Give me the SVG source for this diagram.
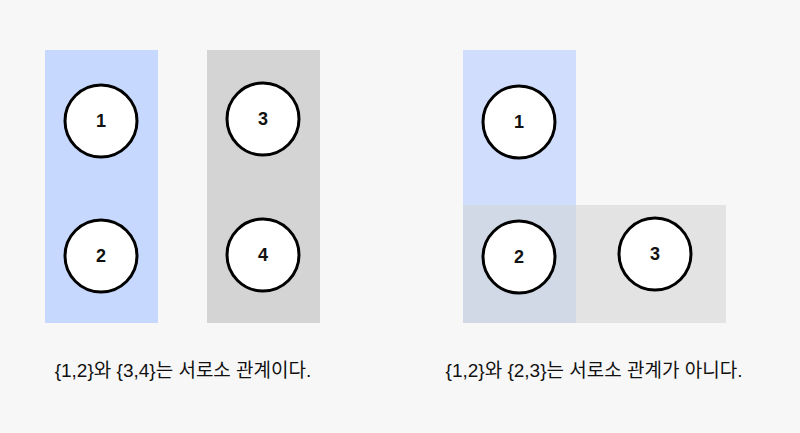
<svg xmlns="http://www.w3.org/2000/svg" width="800" height="433" viewBox="0 0 800 433">
<style>
.c{fill:#ffffff;stroke:#000000;stroke-width:3}
.n{font-family:"Liberation Sans","Noto Sans CJK KR",sans-serif;font-size:18px;font-weight:bold;fill:#111;text-anchor:middle;dominant-baseline:central}
.t{font-family:"Liberation Sans","Noto Sans CJK KR",sans-serif;font-size:19px;fill:#111;text-anchor:middle}
</style>
<rect x="0" y="0" width="800" height="433" fill="#f7f7f7"/>
<g id="left-sets">
<rect x="45" y="50" width="113" height="273" fill="#c6d8fd"/>
<rect x="207" y="50" width="113" height="273" fill="#d4d4d4"/>
</g>
<g id="right-sets">
<rect x="463" y="50" width="113" height="155" fill="#d0ddfc"/>
<rect x="576" y="205" width="150" height="118" fill="#e3e3e3"/>
<rect x="463" y="205" width="113" height="118" fill="#d1d8e6"/>
</g>
<g id="node-l1"><circle class="c" cx="101" cy="121" r="36"/><text class="n" x="101" y="121">1</text></g>
<g id="node-l2"><circle class="c" cx="101" cy="256" r="36"/><text class="n" x="101" y="256">2</text></g>
<g id="node-l3"><circle class="c" cx="263" cy="119" r="36"/><text class="n" x="263" y="119">3</text></g>
<g id="node-l4"><circle class="c" cx="263" cy="255" r="36"/><text class="n" x="263" y="255">4</text></g>
<g id="node-r1"><circle class="c" cx="519" cy="122" r="36"/><text class="n" x="519" y="122">1</text></g>
<g id="node-r2"><circle class="c" cx="519" cy="257" r="36"/><text class="n" x="519" y="257">2</text></g>
<g id="node-r3"><circle class="c" cx="655" cy="254" r="36"/><text class="n" x="655" y="254">3</text></g>
<g id="connectors"></g>
<g id="labels">
<text class="t" x="183" y="377">{1,2}와 {3,4}는 서로소 관계이다.</text>
<text class="t" x="594" y="377">{1,2}와 {2,3}는 서로소 관계가 아니다.</text>
</g>
</svg>
